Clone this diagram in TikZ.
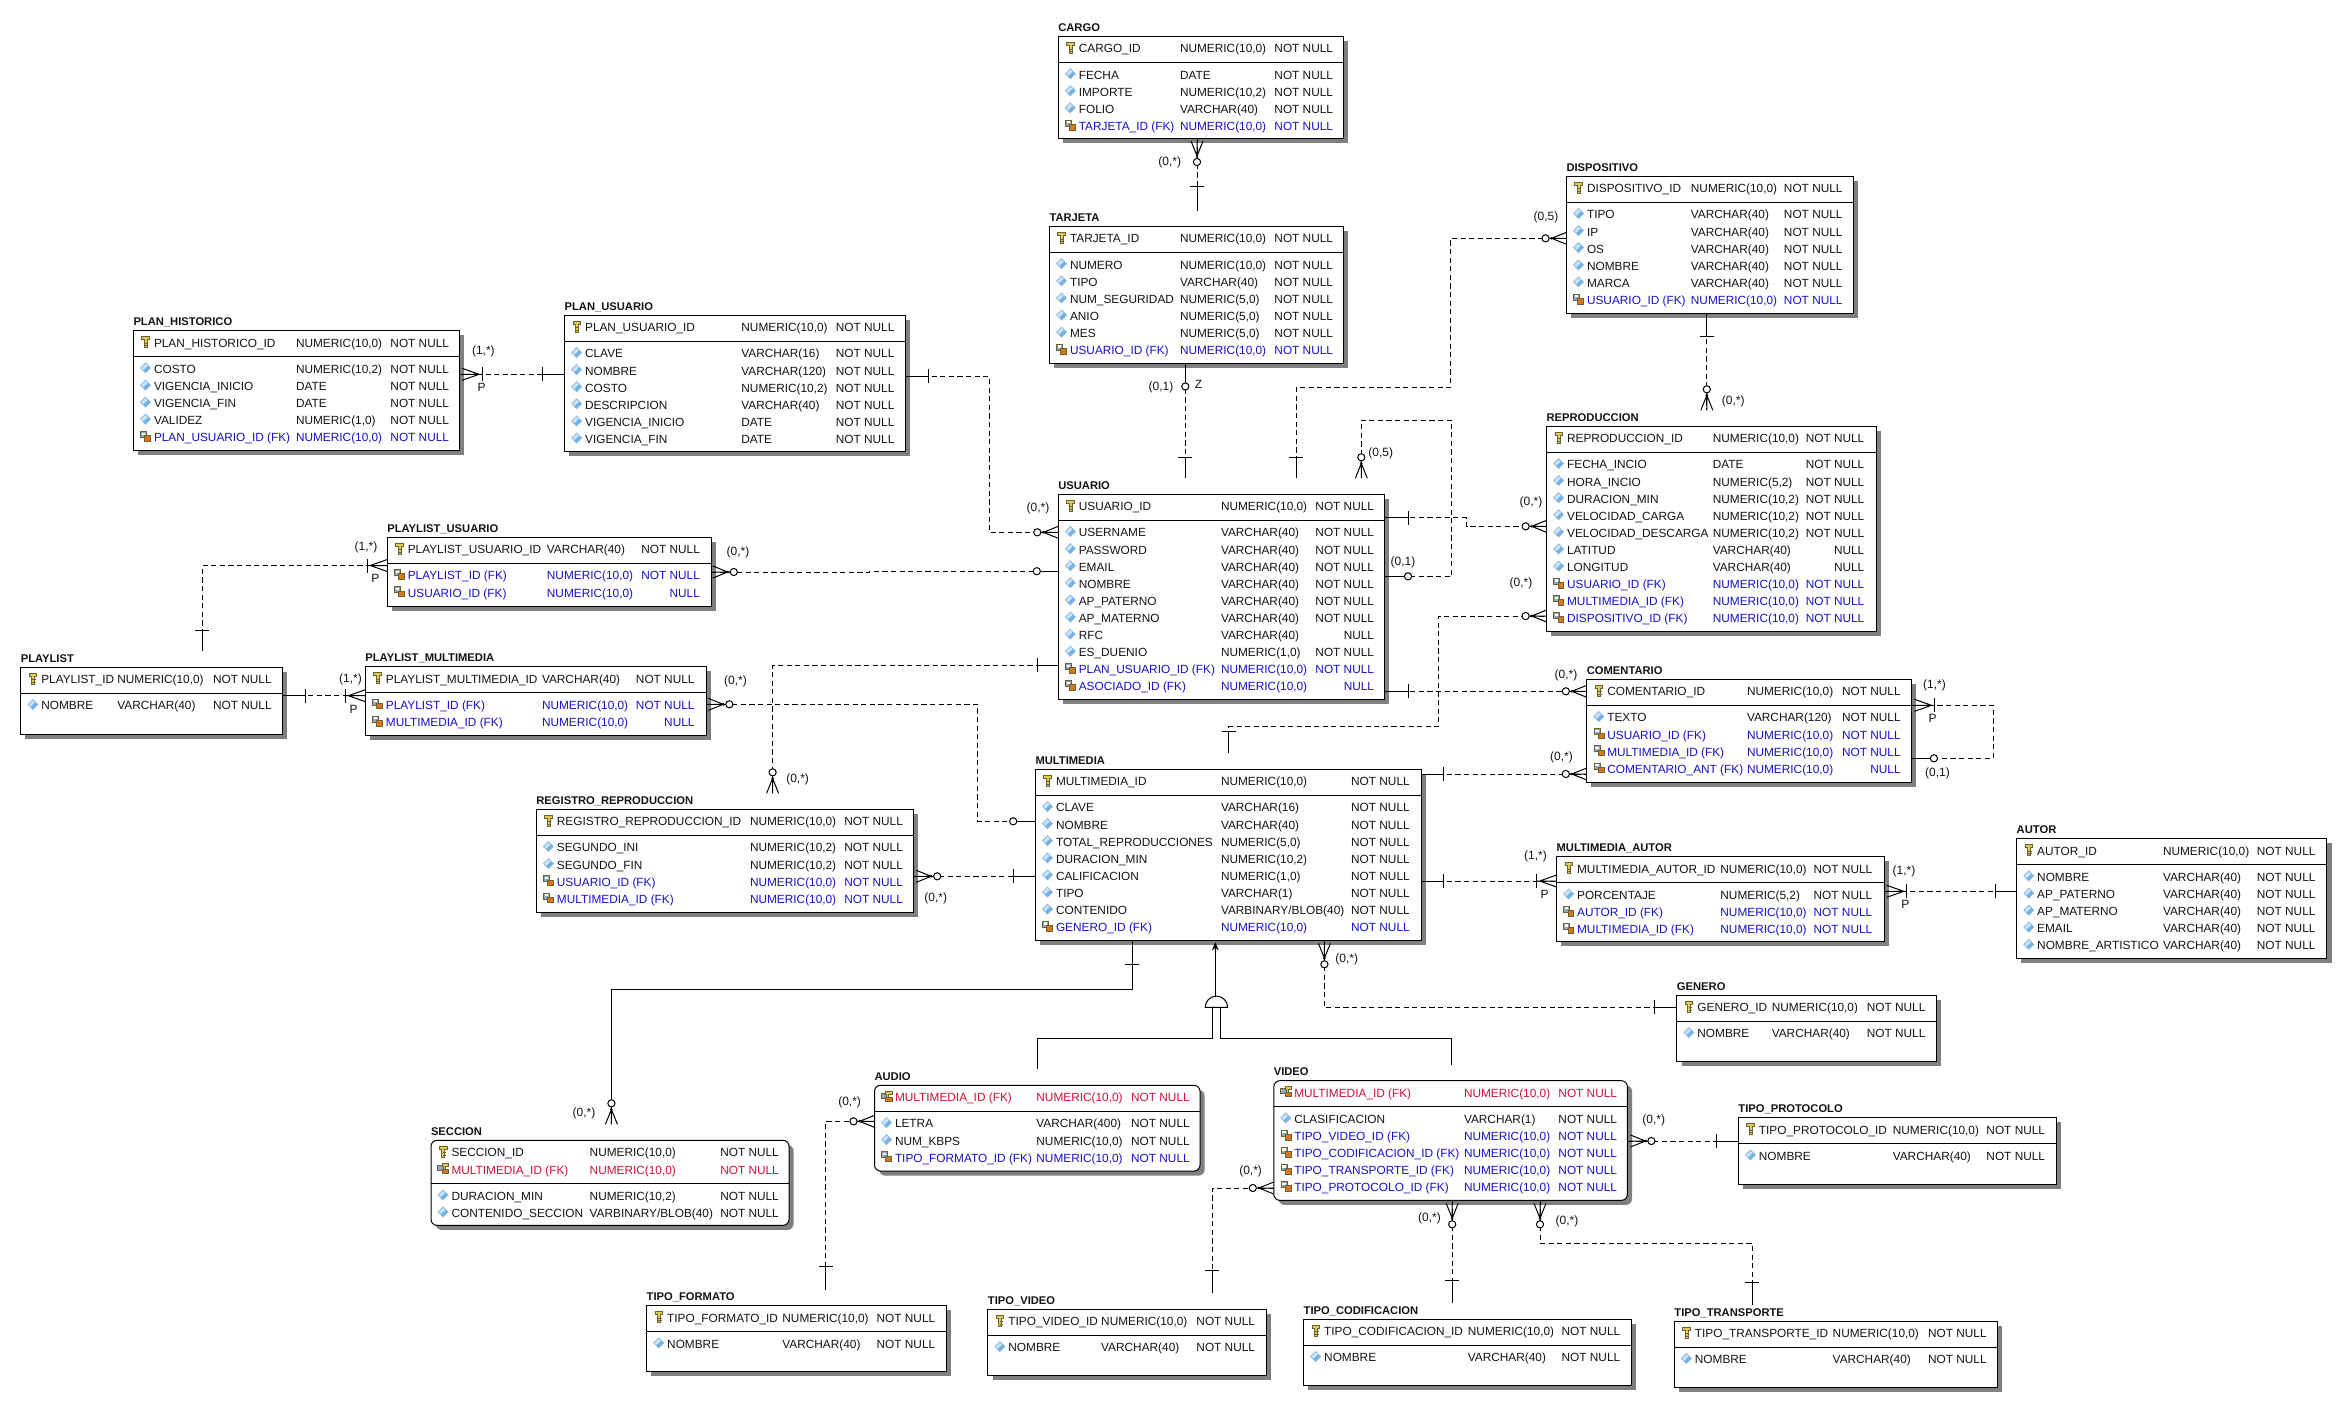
\documentclass[tikz,border=0pt]{standalone}
\usepackage{fontspec}
\setmainfont{Liberation Sans}
\usetikzlibrary{shadows,arrows.meta}
\definecolor{fkblue}{HTML}{1A10C8}
\definecolor{pkred}{HTML}{D0103A}
\definecolor{bodyc}{HTML}{141414}
\definecolor{shadowc}{HTML}{808080}
\definecolor{diamedge}{HTML}{8FB4D6}
\definecolor{diamfill}{HTML}{6FB3EA}
\definecolor{diamlight}{HTML}{C9E4FA}
\definecolor{keygold}{HTML}{E2C858}
\definecolor{keyedge}{HTML}{6A6430}
\definecolor{fkorange}{HTML}{D9751E}
\definecolor{fkslate}{HTML}{8AA6C8}
\tikzset{
  tblbox/.style={draw=black,fill=white,line width=.5pt,anchor=north west,inner sep=0pt,outer sep=0pt,
    drop shadow={shadow xshift=2.3pt,shadow yshift=-2.3pt,fill=shadowc,opacity=1}},
  roundbox/.style={tblbox,rounded corners=3pt},
  ttl/.style={anchor=south west,inner sep=0pt,outer sep=0pt,minimum height=7pt,text height=4.2pt,text depth=0pt,
    font=\fontsize{5.6}{7}\selectfont\bfseries,text=bodyc},
  cell/.style={anchor=west,inner sep=0pt,outer sep=0pt,text height=4.4pt,text depth=0pt,
    font=\fontsize{5.92}{7}\selectfont,text=bodyc},
  lbl/.style={inner sep=0pt,outer sep=0pt,text height=4.4pt,text depth=0pt,font=\fontsize{6}{7}\selectfont,text=bodyc},
  sepline/.style={line width=.5pt,draw=black},
  rel/.style={line width=.5pt,draw=black,dash pattern=on 2.6pt off 1.7pt},
  solidrel/.style={line width=.5pt,draw=black},
  pics/crowzero/.style={code={
    \draw[solidrel] (#1,-6)--({#1+15},0) (#1,0)--({#1+21},0) (#1,6)--({#1+15},0);
    \fill ({#1+15},0) circle (.7pt);
    \draw[solidrel,fill=white] ({#1+21},0) circle (1.8pt);}},
  pics/crowone/.style={code={
    \draw[solidrel] (#1,-6)--({#1+17},0) (#1,0)--({#1+20},0) (#1,6)--({#1+17},0);
    \draw[solidrel] ({#1+20},-7)--({#1+20},7);}},
  pics/one/.style={code={
    \draw[solidrel] (0,0)--(#1,0) (#1,-7)--(#1,7);}},
  pics/zeroone/.style={code={
    \draw[solidrel] (0,0)--(#1,0);
    \draw[solidrel,fill=white] (#1,0) circle (1.8pt);}},
  pics/idiam/.style={code={
    \fill[diamedge] (-5.5,0)--(0,-5.5)--(5.5,0)--(0,5.5)--cycle;
    \fill[diamfill] (-4.3,0)--(0,-4.3)--(4.3,0)--(0,4.3)--cycle;
    \fill[diamlight] (-4.3,0)--(0,-4.3)--(2.2,-2.1)--(-2.1,2.2)--cycle;}},
  pics/ikey/.style={code={
    \draw[keyedge,fill=keygold,line width=.25pt] (-3.8,-5.5)--(3.8,-5.5)--(3.8,-2.2)--(1.5,-2.2)--(1.5,5.5)--(-1.3,5.5)--(-1.3,-2.2)--(-3.8,-2.2)--cycle;
    \fill[keyedge] (-.4,1) rectangle (2.8,1.9);
    \fill[keyedge] (-.4,3.2) rectangle (2.8,4.1);}},
  pics/ifk/.style={code={
    \draw[keyedge,fill=fkslate,line width=.25pt] (-5,-5)--(1,-5)--(1,1)--(-5,1)--cycle;
    \fill[white] (-3.7,-3.8) rectangle (-.3,-1.6);
    \draw[keyedge,fill=fkorange,line width=.25pt] (-.8,-.8)--(5,-.8)--(5,4.8)--(-.8,4.8)--cycle;}},
  pics/ipfk/.style={code={
    \draw[keyedge,fill=fkslate,line width=.25pt] (-5.5,-3)--(0,-3)--(0,2)--(-5.5,2)--cycle;
    \draw[keyedge,fill=fkorange,line width=.25pt] (-1,.5)--(5.5,.5)--(5.5,5)--(-1,5)--cycle;
    \draw[keyedge,fill=keygold,line width=.25pt] (-1,-5.5)--(5.5,-5.5)--(5.5,-2)--(2,-2)--(2,.5)--(0,.5)--(0,-2)--(-1,-2)--cycle;}},
}
\newcount\rwc
\newcommand{\ent}[8]{%
  \xdef\Eid{#1}\xdef\El{#3}\xdef\Ex{#7}\xdef\En{#8}%
  \pgfmathparse{#4+12}\xdef\Ey{\pgfmathresult}%
  \pgfmathsetmacro\Ew{(#5-#3)*.5}\pgfmathsetmacro\Eh{(#6-#4)*.5}%
  \pgfmathsetmacro\Ett{#4-2}%
  \global\rwc=0
  \node[\Ebox,minimum width=\Ew pt,minimum height=\Eh pt] (#1) at (#3,#4) {};
  \node[ttl] (#1-t) at (#3,\Ett) {#2};
}
\def\Ebox{tblbox}
\newcommand{\rw}[6]{% text colour, icon, name, type, null, advance
  \global\advance\rwc 1
  \xdef\Rn{\Eid-\the\rwc}%
  \pic at ({\El+12},{\Ey-1}) {#2};
  \node[cell,text=#1] (\Rn a) at ({\El+20.5},\Ey) {#3};
  \node[cell,text=#1] (\Rn b) at (\Ex,\Ey) {#4};
  \node[cell,text=#1,anchor=east] (\Rn c) at (\En,\Ey) {#5};
  \pgfmathparse{\Ey+#6}\xdef\Ey{\pgfmathresult}%
}
\newcommand{\K}[3]{\rw{bodyc}{ikey}{#1}{#2}{#3}{17.3}}
\newcommand{\R}[3]{\rw{pkred}{ipfk}{#1}{#2}{#3}{17.3}}
\newcommand{\A}[3]{\rw{bodyc}{idiam}{#1}{#2}{#3}{17.1}}
\newcommand{\F}[3]{\rw{fkblue}{ifk}{#1}{#2}{#3}{17.1}}
\newcommand{\SEP}{%
  \pgfmathsetmacro\Ys{\Ey-3.6}%
  \draw[sepline] (\Eid.north west |- 0,\Ys) -- (\Eid.north east |- 0,\Ys);
  \pgfmathparse{\Ey+8.9}\xdef\Ey{\pgfmathresult}%
}
\newcount\lbc
\newcommand{\lab}[3]{\global\advance\lbc 1 \node[lbl] (lab\the\lbc) at (#1,#2) {#3};}
\catcode`\_=12
\begin{document}
\begin{tikzpicture}[x=.5pt,y=-.5pt]
\useasboundingbox (0,0) rectangle (2348,1409);
\fill[white] (0,0) rectangle (2348,1409);

\ent{CARGO}{CARGO}{1058.3}{36.5}{1343.3}{138}{1180}{1333}
\K{CARGO_ID}{NUMERIC(10,0)}{NOT NULL}\SEP
\A{FECHA}{DATE}{NOT NULL}\A{IMPORTE}{NUMERIC(10,2)}{NOT NULL}\A{FOLIO}{VARCHAR(40)}{NOT NULL}\F{TARJETA_ID (FK)}{NUMERIC(10,0)}{NOT NULL}

\ent{TARJETA}{TARJETA}{1049.5}{226.5}{1343.3}{363}{1180}{1333}
\K{TARJETA_ID}{NUMERIC(10,0)}{NOT NULL}\SEP
\A{NUMERO}{NUMERIC(10,0)}{NOT NULL}\A{TIPO}{VARCHAR(40)}{NOT NULL}\A{NUM_SEGURIDAD}{NUMERIC(5,0)}{NOT NULL}\A{ANIO}{NUMERIC(5,0)}{NOT NULL}\A{MES}{NUMERIC(5,0)}{NOT NULL}\F{USUARIO_ID (FK)}{NUMERIC(10,0)}{NOT NULL}

\ent{USUARIO}{USUARIO}{1058.3}{494.3}{1384.3}{699.3}{1221}{1374}
\K{USUARIO_ID}{NUMERIC(10,0)}{NOT NULL}\SEP
\A{USERNAME}{VARCHAR(40)}{NOT NULL}\A{PASSWORD}{VARCHAR(40)}{NOT NULL}\A{EMAIL}{VARCHAR(40)}{NOT NULL}\A{NOMBRE}{VARCHAR(40)}{NOT NULL}\A{AP_PATERNO}{VARCHAR(40)}{NOT NULL}\A{AP_MATERNO}{VARCHAR(40)}{NOT NULL}\A{RFC}{VARCHAR(40)}{NULL}\A{ES_DUENIO}{NUMERIC(1,0)}{NOT NULL}\F{PLAN_USUARIO_ID (FK)}{NUMERIC(10,0)}{NOT NULL}\F{ASOCIADO_ID (FK)}{NUMERIC(10,0)}{NULL}

\ent{MULTIMEDIA}{MULTIMEDIA}{1035.5}{769.3}{1421}{940.3}{1221}{1409.7}
\K{MULTIMEDIA_ID}{NUMERIC(10,0)}{NOT NULL}\SEP
\A{CLAVE}{VARCHAR(16)}{NOT NULL}\A{NOMBRE}{VARCHAR(40)}{NOT NULL}\A{TOTAL_REPRODUCCIONES}{NUMERIC(5,0)}{NOT NULL}\A{DURACION_MIN}{NUMERIC(10,2)}{NOT NULL}\A{CALIFICACION}{NUMERIC(1,0)}{NOT NULL}\A{TIPO}{VARCHAR(1)}{NOT NULL}\A{CONTENIDO}{VARBINARY/BLOB(40)}{NOT NULL}\F{GENERO_ID (FK)}{NUMERIC(10,0)}{NOT NULL}

\ent{PLAN_HISTORICO}{PLAN_HISTORICO}{133.5}{330.7}{459.7}{450.3}{296}{449}
\K{PLAN_HISTORICO_ID}{NUMERIC(10,0)}{NOT NULL}\SEP
\A{COSTO}{NUMERIC(10,2)}{NOT NULL}\A{VIGENCIA_INICIO}{DATE}{NOT NULL}\A{VIGENCIA_FIN}{DATE}{NOT NULL}\A{VALIDEZ}{NUMERIC(1,0)}{NOT NULL}\F{PLAN_USUARIO_ID (FK)}{NUMERIC(10,0)}{NOT NULL}

\ent{PLAN_USUARIO}{PLAN_USUARIO}{564.6}{315.3}{905.7}{451.3}{741.4}{894.4}
\K{PLAN_USUARIO_ID}{NUMERIC(10,0)}{NOT NULL}\SEP
\A{CLAVE}{VARCHAR(16)}{NOT NULL}\A{NOMBRE}{VARCHAR(120)}{NOT NULL}\A{COSTO}{NUMERIC(10,2)}{NOT NULL}\A{DESCRIPCION}{VARCHAR(40)}{NOT NULL}\A{VIGENCIA_INICIO}{DATE}{NOT NULL}\A{VIGENCIA_FIN}{DATE}{NOT NULL}

\ent{PLAYLIST_USUARIO}{PLAYLIST_USUARIO}{387.3}{537.3}{711.2}{606}{546.9}{699.9}
\K{PLAYLIST_USUARIO_ID}{VARCHAR(40)}{NOT NULL}\SEP
\F{PLAYLIST_ID (FK)}{NUMERIC(10,0)}{NOT NULL}\F{USUARIO_ID (FK)}{NUMERIC(10,0)}{NULL}

\ent{PLAYLIST}{PLAYLIST}{20.8}{667.3}{282.3}{734}{117.4}{271.6}
\K{PLAYLIST_ID}{NUMERIC(10,0)}{NOT NULL}\SEP
\A{NOMBRE}{VARCHAR(40)}{NOT NULL}

\ent{PLAYLIST_MULTIMEDIA}{PLAYLIST_MULTIMEDIA}{365.4}{666.7}{706.4}{735}{542}{694.5}
\K{PLAYLIST_MULTIMEDIA_ID}{VARCHAR(40)}{NOT NULL}\SEP
\F{PLAYLIST_ID (FK)}{NUMERIC(10,0)}{NOT NULL}\F{MULTIMEDIA_ID (FK)}{NUMERIC(10,0)}{NULL}

\ent{REGISTRO_REPRODUCCION}{REGISTRO_REPRODUCCION}{536.4}{809.3}{913.2}{912.3}{750}{902.9}
\K{REGISTRO_REPRODUCCION_ID}{NUMERIC(10,0)}{NOT NULL}\SEP
\A{SEGUNDO_INI}{NUMERIC(10,2)}{NOT NULL}\A{SEGUNDO_FIN}{NUMERIC(10,2)}{NOT NULL}\F{USUARIO_ID (FK)}{NUMERIC(10,0)}{NOT NULL}\F{MULTIMEDIA_ID (FK)}{NUMERIC(10,0)}{NOT NULL}

\def\Ebox{roundbox}
\ent{SECCION}{SECCION}{431}{1140.3}{789}{1225.3}{589.7}{778.8}
\K{SECCION_ID}{NUMERIC(10,0)}{NOT NULL}\R{MULTIMEDIA_ID (FK)}{NUMERIC(10,0)}{NOT NULL}\SEP
\A{DURACION_MIN}{NUMERIC(10,2)}{NOT NULL}\A{CONTENIDO_SECCION}{VARBINARY/BLOB(40)}{NOT NULL}

\ent{AUDIO}{AUDIO}{874.5}{1085.3}{1200}{1171}{1036.4}{1189.7}
\R{MULTIMEDIA_ID (FK)}{NUMERIC(10,0)}{NOT NULL}\SEP
\A{LETRA}{VARCHAR(400)}{NOT NULL}\A{NUM_KBPS}{NUMERIC(10,0)}{NOT NULL}\F{TIPO_FORMATO_ID (FK)}{NUMERIC(10,0)}{NOT NULL}

\ent{VIDEO}{VIDEO}{1273.8}{1080.7}{1627.4}{1200.3}{1464}{1617}
\R{MULTIMEDIA_ID (FK)}{NUMERIC(10,0)}{NOT NULL}\SEP
\A{CLASIFICACION}{VARCHAR(1)}{NOT NULL}\F{TIPO_VIDEO_ID (FK)}{NUMERIC(10,0)}{NOT NULL}\F{TIPO_CODIFICACION_ID (FK)}{NUMERIC(10,0)}{NOT NULL}\F{TIPO_TRANSPORTE_ID (FK)}{NUMERIC(10,0)}{NOT NULL}\F{TIPO_PROTOCOLO_ID (FK)}{NUMERIC(10,0)}{NOT NULL}
\def\Ebox{tblbox}

\ent{TIPO_PROTOCOLO}{TIPO_PROTOCOLO}{1738.4}{1117.7}{2056.5}{1184.3}{1892.8}{2045}
\K{TIPO_PROTOCOLO_ID}{NUMERIC(10,0)}{NOT NULL}\SEP\A{NOMBRE}{VARCHAR(40)}{NOT NULL}

\ent{TIPO_CODIFICACION}{TIPO_CODIFICACION}{1303.7}{1319.3}{1631.6}{1385}{1467.9}{1620.2}
\K{TIPO_CODIFICACION_ID}{NUMERIC(10,0)}{NOT NULL}\SEP\A{NOMBRE}{VARCHAR(40)}{NOT NULL}

\ent{TIPO_TRANSPORTE}{TIPO_TRANSPORTE}{1674.4}{1321.3}{1997.4}{1387}{1832.7}{1986.6}
\K{TIPO_TRANSPORTE_ID}{NUMERIC(10,0)}{NOT NULL}\SEP\A{NOMBRE}{VARCHAR(40)}{NOT NULL}

\ent{TIPO_FORMATO}{TIPO_FORMATO}{646.7}{1305.7}{946.7}{1371.3}{782.4}{935.2}
\K{TIPO_FORMATO_ID}{NUMERIC(10,0)}{NOT NULL}\SEP\A{NOMBRE}{VARCHAR(40)}{NOT NULL}

\ent{TIPO_VIDEO}{TIPO_VIDEO}{987.9}{1309.3}{1266}{1375.3}{1101.2}{1255}
\K{TIPO_VIDEO_ID}{NUMERIC(10,0)}{NOT NULL}\SEP\A{NOMBRE}{VARCHAR(40)}{NOT NULL}

\ent{DISPOSITIVO}{DISPOSITIVO}{1566.5}{176.3}{1853}{313.3}{1690.9}{1842.5}
\K{DISPOSITIVO_ID}{NUMERIC(10,0)}{NOT NULL}\SEP
\A{TIPO}{VARCHAR(40)}{NOT NULL}\A{IP}{VARCHAR(40)}{NOT NULL}\A{OS}{VARCHAR(40)}{NOT NULL}\A{NOMBRE}{VARCHAR(40)}{NOT NULL}\A{MARCA}{VARCHAR(40)}{NOT NULL}\F{USUARIO_ID (FK)}{NUMERIC(10,0)}{NOT NULL}

\ent{REPRODUCCION}{REPRODUCCION}{1546.6}{426.3}{1876}{631.3}{1712.8}{1864.3}
\K{REPRODUCCION_ID}{NUMERIC(10,0)}{NOT NULL}\SEP
\A{FECHA_INCIO}{DATE}{NOT NULL}\A{HORA_INCIO}{NUMERIC(5,2)}{NOT NULL}\A{DURACION_MIN}{NUMERIC(10,2)}{NOT NULL}\A{VELOCIDAD_CARGA}{NUMERIC(10,2)}{NOT NULL}\A{VELOCIDAD_DESCARGA}{NUMERIC(10,2)}{NOT NULL}\A{LATITUD}{VARCHAR(40)}{NULL}\A{LONGITUD}{VARCHAR(40)}{NULL}\F{USUARIO_ID (FK)}{NUMERIC(10,0)}{NOT NULL}\F{MULTIMEDIA_ID (FK)}{NUMERIC(10,0)}{NOT NULL}\F{DISPOSITIVO_ID (FK)}{NUMERIC(10,0)}{NOT NULL}

\ent{COMENTARIO}{COMENTARIO}{1586.8}{679.3}{1911.5}{782.3}{1747}{1900.6}
\K{COMENTARIO_ID}{NUMERIC(10,0)}{NOT NULL}\SEP
\A{TEXTO}{VARCHAR(120)}{NOT NULL}\F{USUARIO_ID (FK)}{NUMERIC(10,0)}{NOT NULL}\F{MULTIMEDIA_ID (FK)}{NUMERIC(10,0)}{NOT NULL}\F{COMENTARIO_ANT (FK)}{NUMERIC(10,0)}{NULL}

\ent{MULTIMEDIA_AUTOR}{MULTIMEDIA_AUTOR}{1556.6}{856.7}{1884.3}{941.3}{1720.4}{1872.2}
\K{MULTIMEDIA_AUTOR_ID}{NUMERIC(10,0)}{NOT NULL}\SEP
\A{PORCENTAJE}{NUMERIC(5,2)}{NOT NULL}\F{AUTOR_ID (FK)}{NUMERIC(10,0)}{NOT NULL}\F{MULTIMEDIA_ID (FK)}{NUMERIC(10,0)}{NOT NULL}

\ent{AUTOR}{AUTOR}{2016.7}{838.7}{2326.9}{958.3}{2163}{2315.4}
\K{AUTOR_ID}{NUMERIC(10,0)}{NOT NULL}\SEP
\A{NOMBRE}{VARCHAR(40)}{NOT NULL}\A{AP_PATERNO}{VARCHAR(40)}{NOT NULL}\A{AP_MATERNO}{VARCHAR(40)}{NOT NULL}\A{EMAIL}{VARCHAR(40)}{NOT NULL}\A{NOMBRE_ARTISTICO}{VARCHAR(40)}{NOT NULL}

\ent{GENERO}{GENERO}{1676.9}{995.3}{1936.3}{1061.3}{1771.8}{1925.4}
\K{GENERO_ID}{NUMERIC(10,0)}{NOT NULL}\SEP\A{NOMBRE}{VARCHAR(40)}{NOT NULL}

% ---------- connectors ----------
% CARGO - TARJETA
\draw[rel] (CARGO.south -| 1197,0) -- (TARJETA-t.north -| 1197,0);
\pic[rotate=-90] at (CARGO.south -| 1197,0) {crowzero=3};
\pic[rotate=90] at (TARJETA-t.north -| 1197,0) {one=24};
\lab{1169.7}{161}{(0,*)}
% TARJETA - USUARIO
\draw[rel] (TARJETA.south -| 1185.3,0) -- (USUARIO-t.north -| 1185.3,0);
\pic[rotate=-90] at (TARJETA.south -| 1185.3,0) {zeroone=23.5};
\pic[rotate=90] at (USUARIO-t.north -| 1185.3,0) {one=21};
\lab{1161}{386}{(0,1)}\lab{1198.5}{384}{Z}
% USUARIO - DISPOSITIVO
\draw[rel] (USUARIO-t.north -| 1296.3,0) -- (1296.3,387.3) -- (1450.5,387.3) -- (1450.5,238.3) -- (DISPOSITIVO.west |- 0,238.3);
\pic[rotate=90] at (USUARIO-t.north -| 1296.3,0) {one=21};
\pic[rotate=180] at (DISPOSITIVO.west |- 0,238.3) {crowzero=0};
\lab{1546}{216}{(0,5)}
% USUARIO self
\draw[rel] (USUARIO.east |- 0,576.3) -- (1451.7,576.3) -- (1451.7,420) -- (1361.3,420) -- (USUARIO-t.north -| 1361.3,0);
\pic at (USUARIO.east |- 0,576.3) {zeroone=23.7};
\pic[rotate=90] at (USUARIO-t.north -| 1361.3,0) {crowzero=0};
\lab{1403}{560.7}{(0,1)}\lab{1380.7}{452.3}{(0,5)}
% USUARIO - REPRODUCCION
\draw[rel] (USUARIO.east |- 0,517.7) -- (1466.5,517.7) -- (1466.5,526.3) -- (REPRODUCCION.west |- 0,526.3);
\pic at (USUARIO.east |- 0,517.7) {one=24};
\pic[rotate=180] at (REPRODUCCION.west |- 0,526.3) {crowzero=0};
\lab{1531}{500.7}{(0,*)}
% MULTIMEDIA - REPRODUCCION
\draw[rel] (MULTIMEDIA-t.north -| 1228.7,0) -- (1228.7,726.7) -- (1438.5,726.7) -- (1438.5,616) -- (REPRODUCCION.west |- 0,616);
\draw[solidrel] (MULTIMEDIA-t.north -| 1228.7,0) -- (1228.7,731.5);
\draw[solidrel] (1222,731.5) -- (1235.5,731.5);
\pic[rotate=180] at (REPRODUCCION.west |- 0,616) {crowzero=0};
\lab{1521}{582}{(0,*)}
% USUARIO - COMENTARIO
\draw[rel] (USUARIO.east |- 0,691.3) -- (COMENTARIO.west |- 0,691.3);
\pic at (USUARIO.east |- 0,691.3) {one=24};
\pic[rotate=180] at (COMENTARIO.west |- 0,691.3) {crowzero=0};
\lab{1566}{674}{(0,*)}
% MULTIMEDIA - COMENTARIO
\draw[rel] (MULTIMEDIA.east |- 0,774) -- (COMENTARIO.west |- 0,774);
\pic at (MULTIMEDIA.east |- 0,774) {one=22.5};
\pic[rotate=180] at (COMENTARIO.west |- 0,774) {crowzero=0};
\lab{1561.4}{756}{(0,*)}
% COMENTARIO self
\draw[rel] (COMENTARIO.east |- 0,705.3) -- (1993,705.3) -- (1993,758.3) -- (COMENTARIO.east |- 0,758.3);
\pic at (COMENTARIO.east |- 0,705.3) {crowone=3};
\pic at (COMENTARIO.east |- 0,758.3) {zeroone=22.4};
\lab{1934.5}{684}{(1,*)}\lab{1932.6}{718.3}{P}\lab{1937.5}{772}{(0,1)}
% MULTIMEDIA - MULTIMEDIA_AUTOR
\draw[rel] (MULTIMEDIA.east |- 0,881) -- (MULTIMEDIA_AUTOR.west |- 0,881);
\pic at (MULTIMEDIA.east |- 0,881) {one=22.5};
\pic[rotate=180] at (MULTIMEDIA_AUTOR.west |- 0,881) {crowone=0};
\lab{1535.4}{855}{(1,*)}\lab{1544.5}{894.3}{P}
% MULTIMEDIA_AUTOR - AUTOR
\draw[rel] (MULTIMEDIA_AUTOR.east |- 0,891.3) -- (AUTOR.west |- 0,891.3);
\pic at (MULTIMEDIA_AUTOR.east |- 0,891.3) {crowone=2.4};
\pic[rotate=180] at (AUTOR.west |- 0,891.3) {one=21.2};
\lab{1904}{870}{(1,*)}\lab{1905.4}{904.3}{P}
% PLAN_HISTORICO - PLAN_USUARIO
\draw[rel] (PLAN_HISTORICO.east |- 0,374.3) -- (PLAN_USUARIO.west |- 0,374.3);
\pic at (PLAN_HISTORICO.east |- 0,374.3) {crowone=2.4};
\pic[rotate=180] at (PLAN_USUARIO.west |- 0,374.3) {one=22};
\lab{483.4}{350.3}{(1,*)}\lab{481.6}{387}{P}
% PLAN_USUARIO - USUARIO
\draw[rel] (PLAN_USUARIO.east |- 0,376.3) -- (989,376.3) -- (989,532.3) -- (USUARIO.west |- 0,532.3);
\pic at (PLAN_USUARIO.east |- 0,376.3) {one=23};
\pic[rotate=180] at (USUARIO.west |- 0,532.3) {crowzero=0};
\lab{1038}{506.7}{(0,*)}
% PLAYLIST - PLAYLIST_USUARIO
\draw[rel] (PLAYLIST-t.north -| 202.3,0) -- (202.3,565.5) -- (PLAYLIST_USUARIO.west |- 0,565.5);
\pic[rotate=90] at (PLAYLIST-t.north -| 202.3,0) {one=21};
\pic[rotate=180] at (PLAYLIST_USUARIO.west |- 0,565.5) {crowone=0};
\lab{366}{546}{(1,*)}\lab{375.4}{578.3}{P}
% PLAYLIST_USUARIO - USUARIO
\draw[rel] (PLAYLIST_USUARIO.east |- 0,572) -- (869,572) -- (869,571.2) -- (USUARIO.west |- 0,571.2);
\pic at (PLAYLIST_USUARIO.east |- 0,572) {crowzero=1.6};
\pic[rotate=180] at (USUARIO.west |- 0,571.2) {zeroone=21.5};
\lab{738}{551}{(0,*)}
% PLAYLIST - PLAYLIST_MULTIMEDIA
\draw[rel] (PLAYLIST.east |- 0,695.7) -- (PLAYLIST_MULTIMEDIA.west |- 0,695.7);
\pic at (PLAYLIST.east |- 0,695.7) {one=23};
\pic[rotate=180] at (PLAYLIST_MULTIMEDIA.west |- 0,695.7) {crowone=0};
\lab{350.5}{678}{(1,*)}\lab{353.5}{709}{P}
% PLAYLIST_MULTIMEDIA - MULTIMEDIA
\draw[rel] (PLAYLIST_MULTIMEDIA.east |- 0,704.3) -- (977.5,704.3) -- (977.5,821.3) -- (MULTIMEDIA.west |- 0,821.3);
\pic at (PLAYLIST_MULTIMEDIA.east |- 0,704.3) {crowzero=1.9};
\pic[rotate=180] at (MULTIMEDIA.west |- 0,821.3) {zeroone=22.3};
\lab{735.5}{680}{(0,*)}
% USUARIO - REGISTRO_REPRODUCCION
\draw[rel] (USUARIO.west |- 0,665.3) -- (772.6,665.3) -- (REGISTRO_REPRODUCCION-t.north -| 772.6,0);
\pic[rotate=180] at (USUARIO.west |- 0,665.3) {one=20.6};
\pic[rotate=90] at (REGISTRO_REPRODUCCION-t.north -| 772.6,0) {crowzero=0};
\lab{797.6}{777.7}{(0,*)}
% REGISTRO_REPRODUCCION - MULTIMEDIA
\draw[rel] (REGISTRO_REPRODUCCION.east |- 0,876.3) -- (MULTIMEDIA.west |- 0,876.3);
\pic at (REGISTRO_REPRODUCCION.east |- 0,876.3) {crowzero=3};
\pic[rotate=180] at (MULTIMEDIA.west |- 0,876.3) {one=22.3};
\lab{935.7}{897}{(0,*)}
% MULTIMEDIA - SECCION
\draw[solidrel] (MULTIMEDIA.south -| 1132.4,0) -- (1132.4,989.3) -- (611.4,989.3) -- (SECCION-t.north -| 611.4,0);
\pic[rotate=-90] at (MULTIMEDIA.south -| 1132.4,0) {one=24};
\pic[rotate=90] at (SECCION-t.north -| 611.4,0) {crowzero=0};
\lab{584}{1112}{(0,*)}
% MULTIMEDIA - GENERO
\draw[rel] (MULTIMEDIA.south -| 1324.4,0) -- (1324.4,1007.3) -- (GENERO.west |- 0,1007.3);
\pic[rotate=-90] at (MULTIMEDIA.south -| 1324.4,0) {crowzero=3};
\pic[rotate=180] at (GENERO.west |- 0,1007.3) {one=22.4};
\lab{1346.7}{958.3}{(0,*)}
% subtype gate
\coordinate (gatetop) at (1215.3,997);
\draw[solidrel,-{Stealth[length=4pt,width=3.4pt]},shorten >=1pt] (gatetop) -- (MULTIMEDIA.south -| gatetop);
\draw[solidrel] (1212.4,1007.3) -- (1212.4,1038) -- (1037.5,1038) -- (AUDIO-t.north -| 1037.5,0);
\draw[solidrel] (1220.3,1007.3) -- (1220.3,1038) -- (1451.6,1038) -- (VIDEO-t.north -| 1451.6,0);
\draw[solidrel,fill=white] (1205.2,1007.3) arc[start angle=180,end angle=0,radius=5.6pt] -- cycle;
% AUDIO - TIPO_FORMATO
\draw[rel] (AUDIO.west |- 0,1121.3) -- (825.7,1121.3) -- (TIPO_FORMATO-t.north -| 825.7,0);
\pic[rotate=180] at (AUDIO.west |- 0,1121.3) {crowzero=0};
\pic[rotate=90] at (TIPO_FORMATO-t.north -| 825.7,0) {one=23};
\lab{849.6}{1101}{(0,*)}
% VIDEO - TIPO_VIDEO
\draw[rel] (VIDEO.west |- 0,1188) -- (1212.4,1188) -- (TIPO_VIDEO-t.north -| 1212.4,0);
\pic[rotate=180] at (VIDEO.west |- 0,1188) {crowzero=0};
\pic[rotate=90] at (TIPO_VIDEO-t.north -| 1212.4,0) {one=23};
\lab{1250.6}{1170}{(0,*)}
% VIDEO - TIPO_CODIFICACION
\draw[rel] (VIDEO.south -| 1452.2,0) -- (TIPO_CODIFICACION-t.north -| 1452.2,0);
\pic[rotate=-90] at (VIDEO.south -| 1452.2,0) {crowzero=3};
\pic[rotate=90] at (TIPO_CODIFICACION-t.north -| 1452.2,0) {one=22.5};
\lab{1429.4}{1216.7}{(0,*)}
% VIDEO - TIPO_TRANSPORTE
\draw[rel] (VIDEO.south -| 1540,0) -- (1540,1243.3) -- (1752.4,1243.3) -- (TIPO_TRANSPORTE-t.north -| 1752.4,0);
\pic[rotate=-90] at (VIDEO.south -| 1540,0) {crowzero=3};
\pic[rotate=90] at (TIPO_TRANSPORTE-t.north -| 1752.4,0) {one=22.5};
\lab{1567}{1220}{(0,*)}
% VIDEO - TIPO_PROTOCOLO
\draw[rel] (VIDEO.east |- 0,1141) -- (TIPO_PROTOCOLO.west |- 0,1141);
\pic at (VIDEO.east |- 0,1141) {crowzero=3};
\pic[rotate=180] at (TIPO_PROTOCOLO.west |- 0,1141) {one=22.4};
\lab{1653.8}{1119.3}{(0,*)}
% DISPOSITIVO - REPRODUCCION
\draw[rel] (DISPOSITIVO.south -| 1706.8,0) -- (REPRODUCCION-t.north -| 1706.8,0);
\pic[rotate=-90] at (DISPOSITIVO.south -| 1706.8,0) {one=23.4};
\pic[rotate=90] at (REPRODUCCION-t.north -| 1706.8,0) {crowzero=0};
\lab{1733.3}{400}{(0,*)}
\end{tikzpicture}
\end{document}
